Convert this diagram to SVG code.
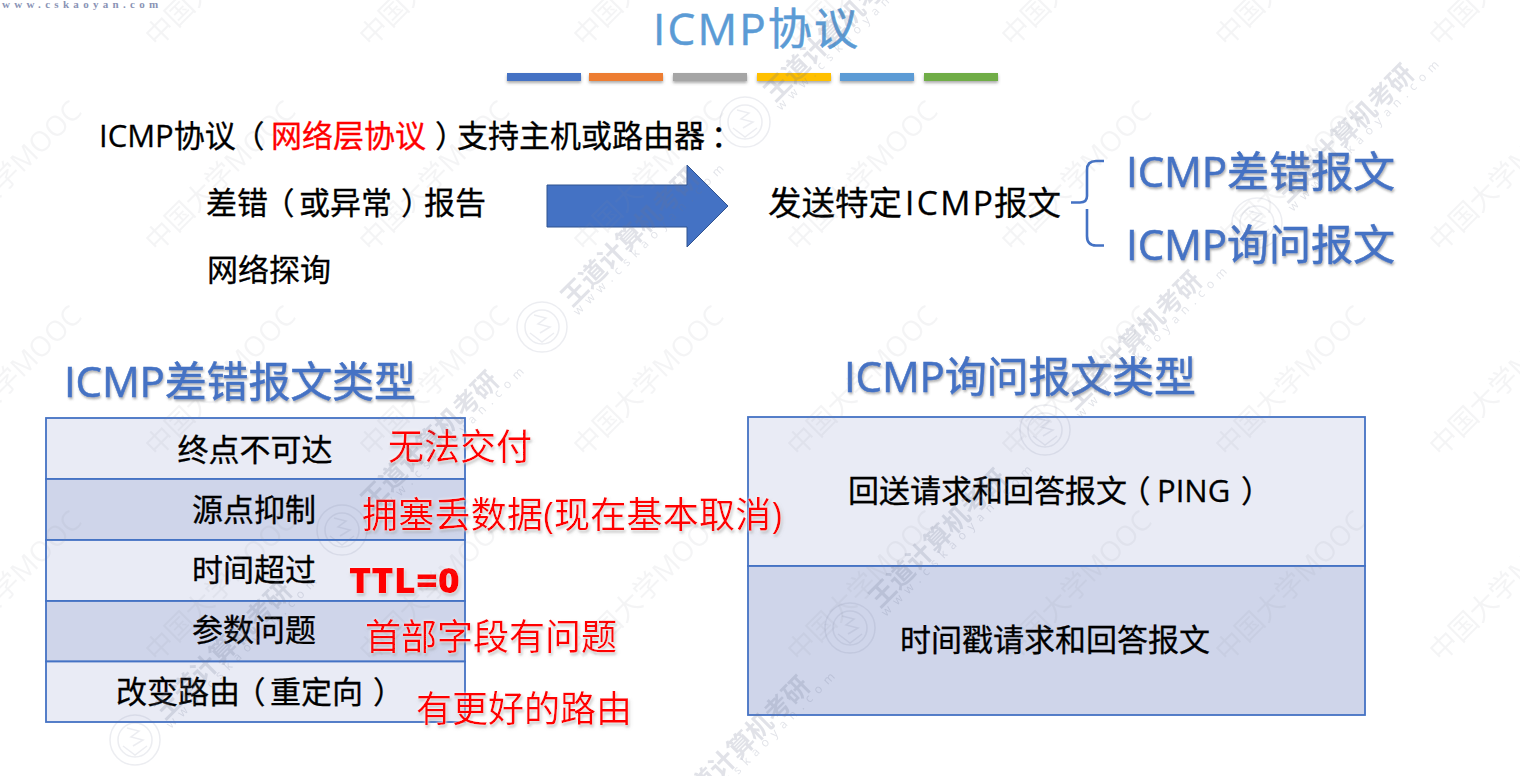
<svg xmlns="http://www.w3.org/2000/svg" width="1520" height="776" viewBox="0 0 1520 776">
<style>
text{font-family:"Open Sans","Noto Sans CJK SC",sans-serif}
.p{font-family:"Noto Sans CJK SC",sans-serif;font-feature-settings:"palt"}
.b{font-size:31px;fill:#000;stroke:#000;stroke-width:.3}
.b2{font-size:33.500px;fill:#000;stroke:#000;stroke-width:.3}
.h{font-size:42px;fill:#4472c4;stroke:#4472c4;stroke-width:.5;filter:url(#s)}
.r{font-size:36px;fill:#f00;filter:url(#g)}
.m{text-anchor:middle}
.t1{fill:#e9ebf5;stroke:#4472c4;stroke-width:1.800}
.t2{fill:#cfd5ea;stroke:#4472c4;stroke-width:1.800}
.wm{font-size:28px;fill:#8a8f9c;opacity:.09}
.wd{font-size:26px;font-weight:700;fill:#6c7590;opacity:.2}
.ws{font-size:12px;fill:#6c7590;opacity:.2;letter-spacing:6.500px}
.lg{fill:none;stroke:#6c7590;stroke-width:1.500;opacity:.13}
</style>
<defs>
<filter id="s" x="-5%" y="-10%" width="110%" height="130%"><feDropShadow dx="1" dy="2" stdDeviation="1.200" flood-color="#555" flood-opacity=".45"/></filter>
<filter id="g" x="-5%" y="-15%" width="110%" height="130%"><feDropShadow dx="0" dy="0" stdDeviation="1.600" flood-color="#fff" flood-opacity="1"/><feDropShadow dx="1" dy="2" stdDeviation="1.200" flood-color="#777" flood-opacity=".5"/></filter>
<filter id="bs" x="-5%" y="-40%" width="110%" height="200%"><feDropShadow dx="0" dy="2" stdDeviation="1.500" flood-color="#555" flood-opacity=".5"/></filter>
<g id="wdm">
<circle class="lg" r="25"/><circle class="lg" r="17"/><path class="lg" d="M-8 -12 4 -9 -4 -3 8 0 -2 6 M-12 6 0 15 12 6" stroke-width="2.500"/>
<text class="wd" transform="translate(30 -19) rotate(-45)">王道计算机考研</text>
<text class="ws" transform="translate(36 -11) rotate(-45)">www.cskaoyan.com</text>
</g>
<g id="wm-row"><text class="wm" transform="translate(-57 253) rotate(-45)">中国大学MOOC</text><text class="wm" transform="translate(157 253) rotate(-45)">中国大学MOOC</text><text class="wm" transform="translate(371 253) rotate(-45)">中国大学MOOC</text><text class="wm" transform="translate(585 253) rotate(-45)">中国大学MOOC</text><text class="wm" transform="translate(799 253) rotate(-45)">中国大学MOOC</text><text class="wm" transform="translate(1013 253) rotate(-45)">中国大学MOOC</text><text class="wm" transform="translate(1227 253) rotate(-45)">中国大学MOOC</text><text class="wm" transform="translate(1441 253) rotate(-45)">中国大学MOOC</text></g>
</defs>
<rect width="1520" height="776" fill="#fff"/>
<text x="2" y="8" style="font-family:'Liberation Serif',serif;font-size:11px;font-weight:700;letter-spacing:4.300px" fill="#8a93b5">www.cskaoyan.com</text>
<text id="title" x="653" y="45" font-size="44" fill="#5b9bd5" stroke="#5b9bd5" stroke-width=".5" textLength="205">ICMP协议</text>
<g id="bars" filter="url(#bs)">
<rect x="507" y="73" width="74" height="8" fill="#4472c4"/><rect x="589" y="73" width="74" height="8" fill="#ed7d31"/><rect x="673" y="73" width="74" height="8" fill="#a5a5a5"/><rect x="757" y="73" width="74" height="8" fill="#ffc000"/><rect x="840" y="73" width="74" height="8" fill="#5b9bd5"/><rect x="924" y="73" width="74" height="8" fill="#70ad47"/>
</g>
<text id="intro" class="b" y="147"><tspan x="99">ICMP协议</tspan><tspan class="p" x="248">（</tspan><tspan x="271" fill="#f00" stroke="#f00">网络层协议</tspan><tspan class="p" x="436">）</tspan><tspan x="457">支持主机或路由器</tspan><tspan class="p" x="711">：</tspan></text>
<text class="b" y="214"><tspan x="206">差错</tspan><tspan class="p" x="278">（</tspan><tspan x="299">或异常</tspan><tspan class="p" x="402">）</tspan><tspan x="424">报告</tspan></text>
<text class="b" x="207" y="281">网络探询</text>
<g id="arrow"><path d="M547 185H687V165L728 206 687 247V227H547Z" fill="#4472c4" stroke="#2f528f" stroke-width="1"/></g>
<text id="send" class="b2" y="215"><tspan x="768">发送特定</tspan><tspan x="905" textLength="88">ICMP</tspan><tspan x="994">报文</tspan></text>
<g id="connectors"><path d="M1071 202.500H1080Q1087 202.500 1087 196V170Q1087 161 1096 161H1104M1087 209V236Q1087 245.500 1096 245.500H1104" fill="none" stroke="#4472c4" stroke-width="2.600"/></g>
<text class="h" x="1126" y="187" textLength="269">ICMP差错报文</text>
<text class="h" x="1126" y="260" textLength="269">ICMP询问报文</text>
<text class="h" x="64" y="397" textLength="352">ICMP差错报文类型</text>
<text class="h" x="844" y="392" textLength="352">ICMP询问报文类型</text>
<g id="error-table">
<rect class="t1" x="46" y="418" width="419" height="61"/><rect class="t2" x="46" y="479" width="419" height="61"/><rect class="t1" x="46" y="540" width="419" height="61"/><rect class="t2" x="46" y="601" width="419" height="60.500"/><rect class="t1" x="46" y="661.500" width="419" height="60.500"/>
<text class="b m" x="255" y="461">终点不可达</text><text class="b m" x="254" y="521">源点抑制</text><text class="b m" x="254" y="581">时间超过</text><text class="b m" x="254" y="641">参数问题</text>
<text class="b" y="703"><tspan x="116">改变路由</tspan><tspan class="p" x="249">（</tspan><tspan x="270">重定向</tspan><tspan class="p" x="374">）</tspan></text>
</g>
<g id="query-table">
<rect class="t1" x="748" y="417" width="617" height="149"/><rect class="t2" x="748" y="566" width="617" height="149"/>
<text class="b" y="502"><tspan x="848">回送请求和回答报文</tspan><tspan class="p" x="1134">（</tspan><tspan x="1157">PING</tspan><tspan class="p" x="1242">）</tspan></text>
<text class="b m" x="1055" y="651">时间戳请求和回答报文</text>
</g>
<text class="r" x="388" y="460">无法交付</text>
<text class="r" x="362" y="528" textLength="420">拥塞丢数据(现在基本取消)</text>
<text class="r" x="349" y="593" style="font-weight:800" textLength="111" lengthAdjust="spacingAndGlyphs">TTL=0</text>
<text class="r" x="365" y="650">首部字段有问题</text>
<text class="r" x="416" y="722">有更好的路由</text>
<g id="watermark">
<use href="#wm-row" y="-205"/><use href="#wm-row"/><use href="#wm-row" y="205"/><use href="#wm-row" y="410"/>
<use href="#wdm" x="135" y="740"/><use href="#wdm" x="342" y="530"/><use href="#wdm" x="542" y="327"/><use href="#wdm" x="745" y="122"/><use href="#wdm" x="1257" y="223"/><use href="#wdm" x="1045" y="430"/><use href="#wdm" x="850" y="628"/><use href="#wdm" x="653" y="835"/>
</g>
</svg>
